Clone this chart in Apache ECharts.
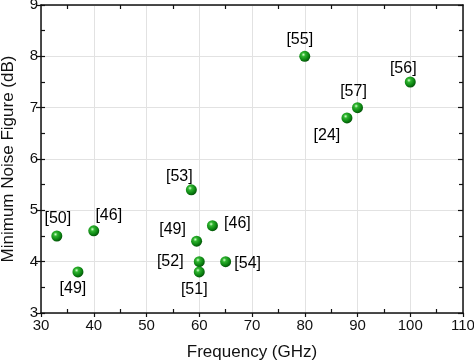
<!DOCTYPE html>
<html><head><meta charset="utf-8">
<script src="https://cdn.jsdelivr.net/npm/echarts@6/dist/echarts.min.js"></script>
<style>html,body{margin:0;padding:0;background:#fff}#c{width:474px;height:361px}</style>
</head><body><div id="c"></div>
<script>
const freq = [33, 37, 40, 58.5, 59.5, 60, 60, 62.5, 65, 80, 88, 90, 100];
const nf = [4.5, 3.8, 4.6, 5.4, 4.4, 4.0, 3.8, 4.7, 4.0, 8.0, 6.8, 7.0, 7.5];
const refs = ['[50]', '[49]', '[46]', '[53]', '[49]', '[52]', '[51]', '[46]', '[54]', '[55]', '[24]', '[57]', '[56]'];
const labelOffsets = [[1,-17],[-5,17],[15,-15],[-12,-13],[-24,-12],[-29,0],[-5,18],[25,-2],[22,2],[-5,-17],[-20,18],[-4,-16],[-7,-13]];

const F = 'Liberation Sans, Arial, sans-serif';
const sphere = {type:'radial', x:0.38, y:0.35, r:0.7, colorStops:[
  {offset:0, color:'#d8ffd0'},{offset:0.25, color:'#2fb52f'},{offset:0.7, color:'#0a8010'},{offset:1, color:'#044a08'}]};
const data = freq.map((x,i)=>({value:[x, nf[i]], label:{offset:labelOffsets[i]}}));

const chart = echarts.init(document.getElementById('c'));
chart.setOption({
  animation:false,
  grid:{left:41, right:11, top:5, bottom:48, containLabel:false, outerBoundsMode:'none'},
  xAxis:[
    {type:'value', min:30, max:110, interval:10, position:'bottom',
     name:'Frequency (GHz)', nameLocation:'middle', nameGap:31,
     nameTextStyle:{fontFamily:F, fontSize:17, color:'#111'},
     axisLine:{show:true, onZero:false, lineStyle:{color:'#111', width:1.5}},
     axisTick:{show:true, inside:false, length:4, lineStyle:{color:'#111', width:1.2}},
     axisLabel:{fontFamily:F, fontSize:15, color:'#111', margin:5, hideOverlap:false},
     splitLine:{show:true, lineStyle:{color:'#e2e2e2', width:1}}},
    {type:'value', min:30, max:110, interval:10, position:'bottom',
     axisLine:{show:false, onZero:false}, axisTick:{show:false, inside:true},
     minorTick:{show:true, splitNumber:2, length:4, lineStyle:{color:'#111', width:1.2}},
     axisLabel:{show:false}, splitLine:{show:false}},
    {type:'value', min:30, max:110, interval:10, position:'top',
     axisLine:{show:true, onZero:false, lineStyle:{color:'#111', width:1.5}},
     axisTick:{show:false, inside:true},
     minorTick:{show:true, splitNumber:2, length:4, lineStyle:{color:'#111', width:1.2}},
     axisLabel:{show:false}, splitLine:{show:false}}
  ],
  yAxis:[
    {type:'value', min:3, max:9, interval:1, position:'left',
     name:'Minimum Noise Figure (dB)', nameLocation:'middle', nameGap:24,
     nameTextStyle:{fontFamily:F, fontSize:17, color:'#111'},
     axisLine:{show:true, onZero:false, lineStyle:{color:'#111', width:1.5}},
     axisTick:{show:true, inside:false, length:5, lineStyle:{color:'#111', width:1.2}},
     axisLabel:{fontFamily:F, fontSize:15, color:'#111', margin:3},
     splitLine:{show:true, lineStyle:{color:'#e2e2e2', width:1}}},
    {type:'value', min:3, max:9, interval:1, position:'left',
     axisLine:{show:false, onZero:false},
     axisTick:{show:true, inside:true, length:4, lineStyle:{color:'#111', width:1.2}},
     minorTick:{show:true, splitNumber:2, length:4, lineStyle:{color:'#111', width:1.2}},
     axisLabel:{show:false}, splitLine:{show:false}},
    {type:'value', min:3, max:9, interval:1, position:'right',
     axisLine:{show:true, onZero:false, lineStyle:{color:'#111', width:1.5}},
     axisTick:{show:true, inside:true, length:5, lineStyle:{color:'#111', width:1.2}},
     minorTick:{show:true, splitNumber:2, length:4, lineStyle:{color:'#111', width:1.2}},
     axisLabel:{show:false}, splitLine:{show:false}}
  ],
  series:[{
    type:'scatter', xAxisIndex:0, yAxisIndex:0,
    symbol:'circle', symbolSize:11,
    itemStyle:{color:sphere, opacity:1},
    label:{show:true, position:'inside', formatter:(p)=>refs[p.dataIndex],
      fontFamily:F, fontSize:16, color:'#000', textBorderWidth:0, opacity:1},
    data:data
  }]
});
</script></body></html>
